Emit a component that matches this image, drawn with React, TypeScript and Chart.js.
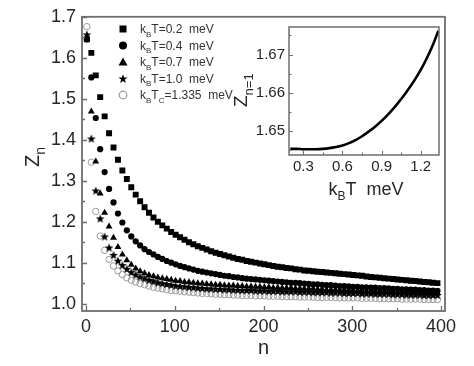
import React, { useEffect, useRef } from "react";
import { Chart, registerables } from "chart.js";

Chart.register(...registerables);

// ---------- main panel data ----------
const nValues = [
  1, 6, 11, 16, 21, 26, 31, 36, 41, 46, 51, 56, 61, 66, 71, 76, 81, 86, 91, 96,
  101, 106, 111, 116, 121, 126, 131, 136, 141, 146, 151, 156, 161, 166, 171, 176, 181, 186, 191, 196,
  201, 206, 211, 216, 221, 226, 231, 236, 241, 246, 251, 256, 261, 266, 271, 276, 281, 286, 291, 296,
  301, 306, 311, 316, 321, 326, 331, 336, 341, 346, 351, 356, 361, 366, 371, 376, 381, 386, 391, 396,
];

const zT02 = [
  1.645, 1.612, 1.557, 1.504, 1.457, 1.416, 1.381, 1.351, 1.325, 1.304, 1.284, 1.266, 1.25, 1.235, 1.222, 1.21, 1.2, 1.191, 1.183, 1.175,
  1.168, 1.162, 1.156, 1.15, 1.145, 1.14, 1.136, 1.132, 1.128, 1.124, 1.121, 1.118, 1.115, 1.112, 1.109, 1.107, 1.104, 1.102, 1.1, 1.098,
  1.096, 1.094, 1.092, 1.09, 1.089, 1.087, 1.086, 1.084, 1.083, 1.081, 1.08, 1.079, 1.078, 1.077, 1.076, 1.075, 1.074, 1.073, 1.072, 1.071,
  1.07, 1.069, 1.068, 1.066, 1.065, 1.064, 1.063, 1.062, 1.061, 1.06, 1.059, 1.058, 1.057, 1.056, 1.055, 1.054, 1.053, 1.052, 1.051, 1.05,
];

const zT04 = [
  1.645, 1.552, 1.453, 1.377, 1.321, 1.28, 1.247, 1.22, 1.198, 1.179, 1.164, 1.152, 1.142, 1.133, 1.126, 1.12, 1.114, 1.109, 1.104, 1.1,
  1.096, 1.092, 1.089, 1.086, 1.083, 1.08, 1.078, 1.076, 1.074, 1.072, 1.07, 1.068, 1.067, 1.065, 1.064, 1.062, 1.061, 1.06, 1.059, 1.058,
  1.057, 1.056, 1.055, 1.054, 1.053, 1.052, 1.051, 1.051, 1.05, 1.049, 1.048, 1.047, 1.047, 1.046, 1.045, 1.045, 1.044, 1.043, 1.043, 1.042,
  1.041, 1.041, 1.04, 1.04, 1.039, 1.039, 1.038, 1.038, 1.037, 1.036, 1.036, 1.035, 1.035, 1.034, 1.034, 1.033, 1.033, 1.032, 1.032, 1.031,
];

const zT07 = [
  1.647, 1.469, 1.347, 1.269, 1.222, 1.188, 1.161, 1.138, 1.12, 1.106, 1.095, 1.086, 1.079, 1.074, 1.07, 1.067, 1.064, 1.062, 1.06, 1.058,
  1.056, 1.055, 1.053, 1.052, 1.051, 1.05, 1.049, 1.048, 1.047, 1.046, 1.046, 1.045, 1.044, 1.044, 1.043, 1.043, 1.042, 1.042, 1.041, 1.041,
  1.04, 1.04, 1.039, 1.039, 1.038, 1.038, 1.038, 1.037, 1.037, 1.036, 1.036, 1.036, 1.035, 1.035, 1.034, 1.034, 1.034, 1.033, 1.033, 1.033,
  1.032, 1.032, 1.032, 1.031, 1.031, 1.031, 1.03, 1.03, 1.03, 1.029, 1.029, 1.029, 1.028, 1.028, 1.028, 1.027, 1.027, 1.027, 1.026, 1.026,
];

const zT10 = [
  1.657, 1.403, 1.276, 1.208, 1.164, 1.137, 1.119, 1.105, 1.094, 1.085, 1.077, 1.071, 1.066, 1.062, 1.058, 1.055, 1.052, 1.05, 1.048, 1.046,
  1.044, 1.043, 1.042, 1.041, 1.04, 1.039, 1.038, 1.037, 1.037, 1.036, 1.036, 1.035, 1.035, 1.034, 1.034, 1.033, 1.033, 1.033, 1.032, 1.032,
  1.032, 1.031, 1.031, 1.031, 1.03, 1.03, 1.03, 1.03, 1.029, 1.029, 1.029, 1.028, 1.028, 1.028, 1.028, 1.027, 1.027, 1.027, 1.026, 1.026,
  1.026, 1.026, 1.025, 1.025, 1.025, 1.024, 1.024, 1.024, 1.024, 1.023, 1.023, 1.023, 1.022, 1.022, 1.022, 1.022, 1.021, 1.021, 1.021, 1.021,
];

const zTc = [
  1.676, 1.345, 1.225, 1.165, 1.13, 1.108, 1.092, 1.08, 1.071, 1.063, 1.057, 1.053, 1.049, 1.046, 1.043, 1.04, 1.038, 1.036, 1.034, 1.032,
  1.031, 1.03, 1.029, 1.028, 1.027, 1.026, 1.025, 1.025, 1.024, 1.023, 1.023, 1.022, 1.022, 1.021, 1.021, 1.02, 1.02, 1.02, 1.019, 1.019,
  1.019, 1.018, 1.018, 1.018, 1.017, 1.017, 1.017, 1.017, 1.016, 1.016, 1.016, 1.016, 1.015, 1.015, 1.015, 1.015, 1.015, 1.014, 1.014, 1.014,
  1.014, 1.014, 1.013, 1.013, 1.013, 1.013, 1.012, 1.012, 1.012, 1.012, 1.012, 1.011, 1.011, 1.011, 1.011, 1.011, 1.01, 1.01, 1.01, 1.01,
];

const seriesTemps = ["0.2", "0.4", "0.7", "1.0", "1.335"];
const xTickValues = [0, 100, 200, 300, 400];
const xMinorValues = [50, 150, 250, 350];
const yTickValues = [1.0, 1.1, 1.2, 1.3, 1.4, 1.5, 1.6, 1.7];
const yMinorValues = [1.05, 1.15, 1.25, 1.35, 1.45, 1.55, 1.65];

// ---------- inset data ----------
const insetT = [0.2, 0.25, 0.3, 0.35, 0.4, 0.45, 0.5, 0.55, 0.6, 0.65, 0.7, 0.75, 0.8, 0.85, 0.9, 0.95, 1.0, 1.05, 1.1, 1.15, 1.2, 1.25, 1.3, 1.335];
const insetZ = [1.6454, 1.6454, 1.6453, 1.6453, 1.6453, 1.6454, 1.6456, 1.6459, 1.6463, 1.6469, 1.6477, 1.6487, 1.6499, 1.6512, 1.6527, 1.6544, 1.6563, 1.6584, 1.6607, 1.6632, 1.666, 1.6693, 1.6731, 1.6762];
const insetXTicks = [0.3, 0.6, 0.9, 1.2];
const insetXMinor = [0.45, 0.75, 1.05];
const insetYTicks = [1.65, 1.66, 1.67];
const insetYMinor = [1.645, 1.655, 1.665, 1.675];

const FONT = "'Liberation Sans', Arial, Helvetica, sans-serif";
const AXIS_COLOR = "#6e6e6e";
const TEXT_COLOR = "#262626";

type Part = [string, boolean?];

function drawRich(ctx: CanvasRenderingContext2D, x: number, y: number, parts: Part[], size: number, align: "left" | "center" = "left") {
  const subSize = Math.round(size * 0.68);
  const measure = () => {
    let w = 0;
    for (const [t, sub] of parts) {
      ctx.font = `${sub ? subSize : size}px ${FONT}`;
      w += ctx.measureText(t).width;
    }
    return w;
  };
  let cx = align === "center" ? x - measure() / 2 : x;
  ctx.textBaseline = "alphabetic";
  ctx.textAlign = "left";
  for (const [t, sub] of parts) {
    ctx.font = `${sub ? subSize : size}px ${FONT}`;
    ctx.fillText(t, cx, sub ? y + size * 0.3 : y);
    cx += ctx.measureText(t).width;
  }
}

function starPath(ctx: CanvasRenderingContext2D, cx: number, cy: number, ro: number, ri: number) {
  ctx.beginPath();
  for (let i = 0; i < 10; i++) {
    const r = i % 2 === 0 ? ro : ri;
    const a = -Math.PI / 2 + (i * Math.PI) / 5;
    const px = cx + r * Math.cos(a);
    const py = cy + r * Math.sin(a);
    if (i === 0) ctx.moveTo(px, py);
    else ctx.lineTo(px, py);
  }
  ctx.closePath();
}

function makeStarCanvas(ro: number, ri: number, color: string) {
  const c = document.createElement("canvas");
  const s = Math.ceil(ro * 2 + 2);
  c.width = s;
  c.height = s;
  const g = c.getContext("2d")!;
  g.fillStyle = color;
  starPath(g, s / 2, s / 2 + 0.5, ro, ri);
  g.fill();
  return c;
}

export default function App() {
  const mainRef = useRef<HTMLCanvasElement>(null);
  const insetRef = useRef<HTMLCanvasElement>(null);

  useEffect(() => {
    if (!mainRef.current || !insetRef.current) return;
    const starImg = makeStarCanvas(4.6, 2.0, "#000");

    const toPts = (ys: number[]) => nValues.map((n, i) => ({ x: n, y: ys[i] }));

    const mainDecor = {
      id: "mainDecor",
      afterDraw(chart: any) {
        const { ctx, chartArea: a, scales } = chart;
        const xs = scales.x;
        const ys = scales.y;
        ctx.save();
        ctx.strokeStyle = AXIS_COLOR;
        ctx.lineWidth = 1.3;
        ctx.beginPath();
        for (const v of xTickValues) {
          const px = Math.round(xs.getPixelForValue(v)) + 0.5;
          ctx.moveTo(px, a.bottom);
          ctx.lineTo(px, a.bottom - 5);
        }
        for (const v of xMinorValues) {
          const px = Math.round(xs.getPixelForValue(v)) + 0.5;
          ctx.moveTo(px, a.bottom);
          ctx.lineTo(px, a.bottom - 3);
        }
        for (const v of yTickValues) {
          const py = Math.round(ys.getPixelForValue(v)) + 0.5;
          ctx.moveTo(a.left, py);
          ctx.lineTo(a.left + 5, py);
        }
        for (const v of yMinorValues) {
          const py = Math.round(ys.getPixelForValue(v)) + 0.5;
          ctx.moveTo(a.left, py);
          ctx.lineTo(a.left + 3, py);
        }
        ctx.stroke();
        ctx.lineWidth = 1.8;
        ctx.strokeRect(a.left, a.top, a.right - a.left, a.bottom - a.top);

        ctx.fillStyle = TEXT_COLOR;
        ctx.save();
        ctx.translate(39, 167);
        ctx.rotate(-Math.PI / 2);
        drawRich(ctx, 0, 0, [["Z"], ["n", true]], 20);
        ctx.restore();
        ctx.font = `20px ${FONT}`;
        ctx.textAlign = "center";
        ctx.textBaseline = "alphabetic";
        ctx.fillText("n", (a.left + a.right) / 2, 354);

        const lx = 123;
        const rows = [29, 45.5, 62, 78.5, 95];
        rows.forEach((ry, i) => {
          ctx.fillStyle = "#000";
          ctx.strokeStyle = "#000";
          if (i === 0) {
            ctx.fillRect(lx - 3.5, ry - 3.5, 7, 7);
          } else if (i === 1) {
            ctx.beginPath();
            ctx.arc(lx, ry, 4, 0, Math.PI * 2);
            ctx.fill();
          } else if (i === 2) {
            ctx.beginPath();
            ctx.moveTo(lx, ry - 4.5);
            ctx.lineTo(lx + 4.5, ry + 3.5);
            ctx.lineTo(lx - 4.5, ry + 3.5);
            ctx.closePath();
            ctx.fill();
          } else if (i === 3) {
            starPath(ctx, lx, ry + 0.5, 4.8, 2.0);
            ctx.fill();
          } else {
            ctx.strokeStyle = "#9a9a9a";
            ctx.lineWidth = 1.2;
            ctx.beginPath();
            ctx.arc(lx, ry, 3.8, 0, Math.PI * 2);
            ctx.stroke();
          }
          ctx.fillStyle = "#333";
          const parts: Part[] =
            i === 4
              ? [["k"], ["B", true], ["T"], ["C", true], [`=${seriesTemps[i]}  meV`]]
              : [["k"], ["B", true], [`T=${seriesTemps[i]}  meV`]];
          drawRich(ctx, 140, ry + 4, parts, 12);
        });
        ctx.restore();
      },
    };

    const main = new Chart(mainRef.current, {
      type: "scatter",
      data: {
        datasets: [
          { data: toPts(zT02), pointStyle: "rect", pointRadius: 4.2, backgroundColor: "#000", borderColor: "#000", borderWidth: 0 },
          { data: toPts(zT04), pointStyle: "circle", pointRadius: 3.1, backgroundColor: "#000", borderColor: "#000", borderWidth: 0 },
          { data: toPts(zT07), pointStyle: "triangle", pointRadius: 4, backgroundColor: "#000", borderColor: "#000", borderWidth: 0 },
          { data: toPts(zT10), pointStyle: starImg as any, pointRadius: 4, backgroundColor: "#000", borderColor: "#000", borderWidth: 0 },
          { data: toPts(zTc), pointStyle: "circle", pointRadius: 3.2, backgroundColor: "rgba(0,0,0,0)", borderColor: "#9a9a9a", borderWidth: 1 },
        ] as any,
      },
      options: {
        responsive: false,
        animation: false,
        devicePixelRatio: 1,
        events: [],
        layout: { padding: { left: 0, top: 14, right: 29, bottom: 0 } },
        plugins: { legend: { display: false }, tooltip: { enabled: false }, title: { display: false } },
        scales: {
          x: {
            type: "linear",
            min: -4.5,
            max: 404.5,
            grid: { display: false, drawTicks: false },
            border: { display: false },
            afterFit: (s: any) => { s.height = 55; },
            afterBuildTicks: (s: any) => { s.ticks = xTickValues.map((v) => ({ value: v })); },
            ticks: {
              padding: 5,
              color: TEXT_COLOR,
              font: { family: FONT, size: 18 },
              maxRotation: 0,
              autoSkip: false,
              callback: (v: any) => String(v),
            },
          },
          y: {
            type: "linear",
            min: 0.982,
            max: 1.7,
            grid: { display: false, drawTicks: false },
            border: { display: false },
            afterFit: (s: any) => { s.width = 82; },
            afterBuildTicks: (s: any) => { s.ticks = yTickValues.map((v) => ({ value: v })); },
            ticks: {
              padding: 6,
              color: TEXT_COLOR,
              font: { family: FONT, size: 18 },
              autoSkip: false,
              callback: (v: any) => Number(v).toFixed(1),
            },
          },
        },
      } as any,
      plugins: [mainDecor],
    });

    const insetDecor = {
      id: "insetDecor",
      afterDraw(chart: any) {
        const { ctx, chartArea: a, scales } = chart;
        const xs = scales.x;
        const ys = scales.y;
        ctx.save();
        ctx.strokeStyle = AXIS_COLOR;
        ctx.lineWidth = 1.1;
        ctx.beginPath();
        for (const v of insetXTicks) {
          const px = Math.round(xs.getPixelForValue(v)) + 0.5;
          ctx.moveTo(px, a.bottom);
          ctx.lineTo(px, a.bottom - 4);
        }
        for (const v of insetXMinor) {
          const px = Math.round(xs.getPixelForValue(v)) + 0.5;
          ctx.moveTo(px, a.bottom);
          ctx.lineTo(px, a.bottom - 2.5);
        }
        for (const v of insetYTicks) {
          const py = Math.round(ys.getPixelForValue(v)) + 0.5;
          ctx.moveTo(a.left, py);
          ctx.lineTo(a.left + 4, py);
        }
        for (const v of insetYMinor) {
          const py = Math.round(ys.getPixelForValue(v)) + 0.5;
          ctx.moveTo(a.left, py);
          ctx.lineTo(a.left + 2.5, py);
        }
        ctx.stroke();
        ctx.lineWidth = 1.5;
        ctx.strokeRect(a.left, a.top, a.right - a.left, a.bottom - a.top);

        ctx.fillStyle = TEXT_COLOR;
        ctx.save();
        ctx.translate(22, 93);
        ctx.rotate(-Math.PI / 2);
        drawRich(ctx, 0, 0, [["Z"], ["n=1", true]], 19);
        ctx.restore();
        drawRich(ctx, (a.left + a.right) / 2 + 2, 181, [["k"], ["B", true], ["T  meV"]], 18, "center");
        ctx.restore();
      },
    };

    const inset = new Chart(insetRef.current, {
      type: "scatter",
      data: {
        datasets: [
          {
            data: insetT.map((t, i) => ({ x: t, y: insetZ[i] })),
            showLine: true,
            pointRadius: 0,
            borderColor: "#000",
            borderWidth: 2.6,
            cubicInterpolationMode: "monotone",
          },
        ] as any,
      },
      options: {
        responsive: false,
        animation: false,
        devicePixelRatio: 1,
        events: [],
        layout: { padding: { left: 0, top: 6, right: 6, bottom: 0 } },
        plugins: { legend: { display: false }, tooltip: { enabled: false } },
        scales: {
          x: {
            type: "linear",
            min: 0.19,
            max: 1.34,
            grid: { display: false, drawTicks: false },
            border: { display: false },
            afterFit: (s: any) => { s.height = 51; },
            afterBuildTicks: (s: any) => { s.ticks = insetXTicks.map((v) => ({ value: v })); },
            ticks: {
              padding: 3,
              color: TEXT_COLOR,
              font: { family: FONT, size: 15 },
              maxRotation: 0,
              autoSkip: false,
              callback: (v: any) => Number(v).toFixed(1),
            },
          },
          y: {
            type: "linear",
            min: 1.6438,
            max: 1.6772,
            grid: { display: false, drawTicks: false },
            border: { display: false },
            afterFit: (s: any) => { s.width = 64; },
            afterBuildTicks: (s: any) => { s.ticks = insetYTicks.map((v) => ({ value: v })); },
            ticks: {
              padding: 4,
              color: TEXT_COLOR,
              font: { family: FONT, size: 15 },
              autoSkip: false,
              callback: (v: any) => Number(v).toFixed(2),
            },
          },
        },
      } as any,
      plugins: [insetDecor],
    });

    return () => {
      main.destroy();
      inset.destroy();
    };
  }, []);

  return (
    <div style={{ position: "fixed", left: 0, top: 0, width: 474, height: 366, background: "#fff" }}>
      <canvas ref={mainRef} width={474} height={366} style={{ position: "absolute", left: 0, top: 0, width: 474, height: 366 }} />
      <canvas ref={insetRef} width={220} height={192} style={{ position: "absolute", left: 225, top: 14, width: 220, height: 192 }} />
    </div>
  );
}
